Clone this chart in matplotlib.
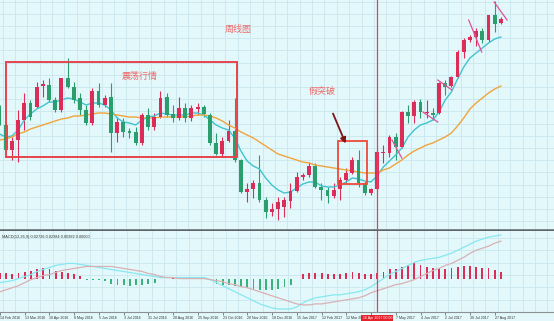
import matplotlib
matplotlib.use("Agg")
import matplotlib.pyplot as plt
import numpy as np

plt.rcParams['font.family'] = ['Noto Sans CJK SC', 'DejaVu Sans']

# weekly candles, 14 Feb 2016 .. 3 Sep 2017 (price levels)
opens = [122, 105, 80, 90, 110, 127, 123, 144, 145, 130, 120, 152, 143, 132, 120, 107, 139, 125, 133, 97,
         108, 99, 98, 87, 115, 103, 113, 133, 116, 112, 122, 112, 121, 123, 115, 87, 76, 89, 99, 70,
         38, 41, 47, 30, 18, 21, 23, 29, 39, 53, 55, 64, 43, 40, 34, 41, 50, 57, 70, 47,
         37, 41, 77, 77, 93, 83, 118, 114, 128, 117, 117, 117, 147, 144, 153, 178, 190, 193, 199, 190,
         215, 207]
highs = [125, 107, 93, 120, 137, 130, 148, 150, 152, 133, 152, 172, 148, 137, 125, 142, 147, 135, 147, 113,
         112, 102, 103, 117, 122, 117, 139, 137, 125, 133, 127, 125, 127, 125, 117, 97, 93, 110, 132, 71,
         47, 50, 75, 33, 27, 33, 33, 47, 58, 57, 68, 67, 47, 43, 47, 53, 62, 73, 80, 49,
         42, 80, 85, 95, 97, 119, 125, 130, 131, 130, 122, 148, 150, 154, 180, 192, 195, 202, 202, 215,
         229, 213]
lows = [105, 78, 70, 68, 100, 110, 122, 133, 128, 118, 118, 142, 127, 115, 105, 105, 123, 123, 78, 88,
        93, 92, 85, 85, 100, 100, 112, 113, 108, 110, 108, 109, 115, 113, 85, 75, 74, 88, 68, 37,
        28, 32, 28, 12, 14, 10, 13, 22, 38, 50, 53, 42, 30, 27, 32, 30, 47, 56, 43, 35,
        35, 40, 67, 73, 70, 82, 107, 107, 112, 112, 110, 116, 135, 143, 152, 172, 188, 184, 187, 188,
        198, 206]
closes = [107, 80, 89, 110, 127, 113, 143, 146, 130, 120, 152, 143, 130, 120, 107, 139, 125, 132, 97, 108,
          98, 97, 87, 115, 103, 113, 132, 115, 112, 122, 112, 122, 123, 116, 87, 76, 89, 99, 70, 38,
          41, 47, 30, 18, 21, 28, 30, 39, 53, 55, 64, 43, 40, 34, 40, 50, 57, 70, 47, 37,
          41, 78, 78, 93, 83, 118, 114, 128, 118, 118, 115, 147, 143, 153, 178, 190, 193, 199, 190, 215,
          206, 211]

ma_fast = [96, 93, 94, 100, 110, 116, 121, 124, 128, 128, 130, 132, 131, 128, 125, 127, 127, 125, 120, 112,
           108, 107, 105, 110, 113, 114, 117, 116, 115, 115, 115, 117, 117, 115, 110, 105, 102, 100, 92, 79,
           69, 64, 61, 52, 45, 40, 37, 38, 42, 46, 48, 48, 44, 43, 43, 45, 48, 52, 51, 49,
           48, 54, 63, 69, 75, 82, 93, 100, 105, 107, 110, 118, 130, 138, 151, 163, 172, 177, 182, 187,
           191, 193]
ma_slow = [90, 91, 93, 96, 98, 101, 103, 105, 107, 109, 111, 112, 114, 114, 115, 116, 117, 117, 116, 115,
           114, 113, 113, 112, 112, 112, 113, 113, 113, 113, 113, 114, 115, 115, 114, 112, 109, 105, 102, 98,
           95, 92, 88, 84, 80, 76, 74, 72, 70, 68, 67, 65, 64, 63, 62, 61, 60, 59, 58, 57,
           57, 57, 60, 62, 66, 70, 75, 79, 82, 85, 87, 90, 93, 97, 104, 112, 121, 127, 132, 137,
           141, 144]

macd_line = [-4, -3, -2, 0, 2, 4, 7, 9, 11, 13, 14, 15, 15, 14, 13, 12, 11, 10, 9, 8,
             7, 6, 5, 4, 3, 2, 1, 1, 1, 1, 1, 1, 1, 1, -1, -4, -7, -10, -13, -16,
             -19, -22, -25, -27, -29, -30, -30, -30, -28, -24, -21, -19, -18, -17, -16, -16, -15, -14, -13, -11,
             -8, -4, 0, 4, 7, 10, 13, 16, 18, 19, 20, 21, 23, 25, 28, 31, 34, 37, 39, 41,
             42, 43]
signal_line = [-13, -11, -9, -7, -4, -1, 1, 3, 4, 6, 8, 9, 10, 11, 12, 12, 12, 12, 12, 11,
               10, 9, 8, 7, 5, 4, 2, 1, 1, 0, 0, 0, 0, 0, -1, -2, -3, -5, -6, -8,
               -9, -11, -13, -15, -17, -19, -21, -23, -25, -26, -26, -25, -25, -24, -23, -22, -21, -20, -19, -17,
               -14, -12, -10, -8, -6, -5, -3, -1, 2, 5, 8, 10, 13, 15, 18, 21, 25, 28, 30, 32,
               35, 37]
macd_hist = [5.5, 6, 5, 5.7, 6.7, 7.3, 9, 10, 9.3, 7.7, 7, 6, 4.3, 2.3, -1, -1, -1, -2, -5, -6,
             -6.5, -7.5, -6.5, -6, -5, -4, -0.5, -0.5, 0.5, 1, 1, 1, 1.5, 1, -1, -5, -6, -6, -7, -8,
             -9, -10, -11, -11, -11, -10, -8, -6, 0, 4.5, 6, 6, 5.5, 5, 5, 5, 5.5, 6.5, 6, 5,
             4.5, 6, 7, 9, 9.5, 11.5, 13, 15, 13.5, 11.5, 10, 10, 9.5, 10, 11, 12, 12.5, 11.5, 10.5, 10,
             8, 6.5]

# every 4th week; the 9 Apr 2017 label sits under the cursor box
date_labels = ['14 Feb 2016', '13 Mar 2016', '10 Apr 2016', '8 May 2016', '5 Jun 2016', '3 Jul 2016',
               '31 Jul 2016', '28 Aug 2016', '25 Sep 2016', '23 Oct 2016', '20 Nov 2016', '18 Dec 2016',
               '15 Jan 2017', '12 Feb 2017', '12 Mar 2017', '', '7 May 2017', '4 Jun 2017',
               '2 Jul 2017', '30 Jul 2017', '27 Aug 2017']
cursor_bar = 61
cursor_label = '16 Apr 2017 00:00'

# annotations (candle index, price level)
box_range = (1.05, 73, 38.4, 168)
box_fake = (54.7, 46, 59.4, 89)
trend_marks = [((63.4, 90), (65.0, 72)), ((68.4, 118), (70.8, 108)), ((70.8, 150), (73.1, 140)),
               ((75.8, 210), (77.9, 178)), ((79.9, 228), (82.0, 210))]

bg = '#e3f8fa'
grid_c = '#c9e7ee'
up_c = '#dc2d58'
dn_c = '#2a9e6c'
note_c = '#ee6b6b'

fig = plt.figure(figsize=(5.54, 3.21), dpi=100, facecolor=bg)
ax = fig.add_axes([0, 91 / 321, 1, 230 / 321])
axm = fig.add_axes([0, 9 / 321, 1, 81 / 321])

n = len(closes)
idx = np.arange(n)
o = np.array(opens); c = np.array(closes)
cols = [up_c if c[i] >= o[i] else dn_c for i in range(n)]

for a in (ax, axm):
    a.set_facecolor(bg)
    a.set_xlim(0.08, 89.58)
    for s in a.spines.values():
        s.set_visible(False)
    for gx in np.arange(0.5, 90, 2):
        a.axvline(gx, color=grid_c, lw=0.6, zorder=0)
    a.axvline(cursor_bar, color='#e8405a', lw=0.9, zorder=5)

for gy in np.arange(1.5, 230, 12.2):
    ax.axhline(230 - gy, color=grid_c, lw=0.6, zorder=0)
for gy in np.arange(-33, 48, 12.2):
    axm.axhline(gy, color=grid_c, lw=0.6, zorder=0)

# candles
ax.vlines(idx, lows, highs, colors=cols, lw=0.8, zorder=3)
body = np.maximum(np.abs(c - o), 0.9)
ax.bar(idx, body, bottom=np.minimum(o, c), width=0.62, color=cols, zorder=4)

ax.plot(idx, ma_fast, color='#3fc4d0', lw=1.0, zorder=3)
ax.plot(idx, ma_slow, color='#f0a43c', lw=1.0, zorder=3)

ax.add_patch(plt.Rectangle((box_range[0], box_range[1]), box_range[2] - box_range[0],
                           box_range[3] - box_range[1], fill=False, ec='#e8434a', lw=1.4, zorder=6))
ax.add_patch(plt.Rectangle((box_fake[0], box_fake[1]), box_fake[2] - box_fake[0],
                           box_fake[3] - box_fake[1], fill=False, ec='#ef4a3a', lw=1.3, zorder=6))
for (x0, y0), (x1, y1) in trend_marks:
    ax.plot([x0, x1], [y0, y1], color='#e0509a', lw=0.9, zorder=6)

ax.text(38.5, 201, '周线图', color=note_c, fontsize=6.5, ha='center', va='center')
ax.text(22.7, 154, '震荡行情', color=note_c, fontsize=6.5, ha='center', va='center')
ax.text(52.1, 138.5, '假突破', color=note_c, fontsize=6.5, ha='center', va='center')
ax.annotate('', xy=(56.1, 84), xytext=(53.7, 119),
            arrowprops=dict(arrowstyle='-|>', color='#7a1616', lw=1.3, mutation_scale=8), zorder=7)

ax.set_ylim(0, 230)
ax.set_xticks([]); ax.set_yticks([])
ax.spines['bottom'].set_visible(True)
ax.spines['bottom'].set_color('#5f666c')
ax.spines['bottom'].set_linewidth(1.8)

# MACD panel
h = np.array(macd_hist)
axm.bar(idx, h, width=0.3, color=[up_c if v >= 0 else '#3ab27c' for v in h], zorder=3)
axm.plot(idx, macd_line, color='#86e8f0', lw=0.9, zorder=4)
axm.plot(idx, signal_line, color='#d9b0b4', lw=0.9, zorder=4)
axm.set_ylim(-33, 47)
axm.set_yticks([])
axm.text(0.004, 0.955, 'MACD(12,26,9) 0.02726 0.02384 0.00382 0.00000', transform=axm.transAxes,
         fontsize=2.8, color='#333333', va='top', ha='left', family='Liberation Sans')
axm.spines['bottom'].set_visible(True)
axm.spines['bottom'].set_color('#8a9296')
axm.spines['bottom'].set_linewidth(0.8)

tick_pos = np.arange(0, 4 * len(date_labels), 4)
axm.set_xticks(tick_pos)
axm.set_xticklabels(date_labels, fontsize=2.6, color='#333333', ha='left', family='Liberation Sans')
axm.tick_params(axis='x', length=2, width=0.5, pad=1.2, color='#555555')
axm.text(cursor_bar, -0.05, cursor_label, transform=axm.get_xaxis_transform(), fontsize=2.6,
         color='white', ha='center', va='top', family='Liberation Sans',
         bbox=dict(boxstyle='square,pad=0.3', fc='#e8202a', ec='none'), zorder=10, clip_on=False)

fig.savefig('out.png', dpi=100, facecolor=bg)
